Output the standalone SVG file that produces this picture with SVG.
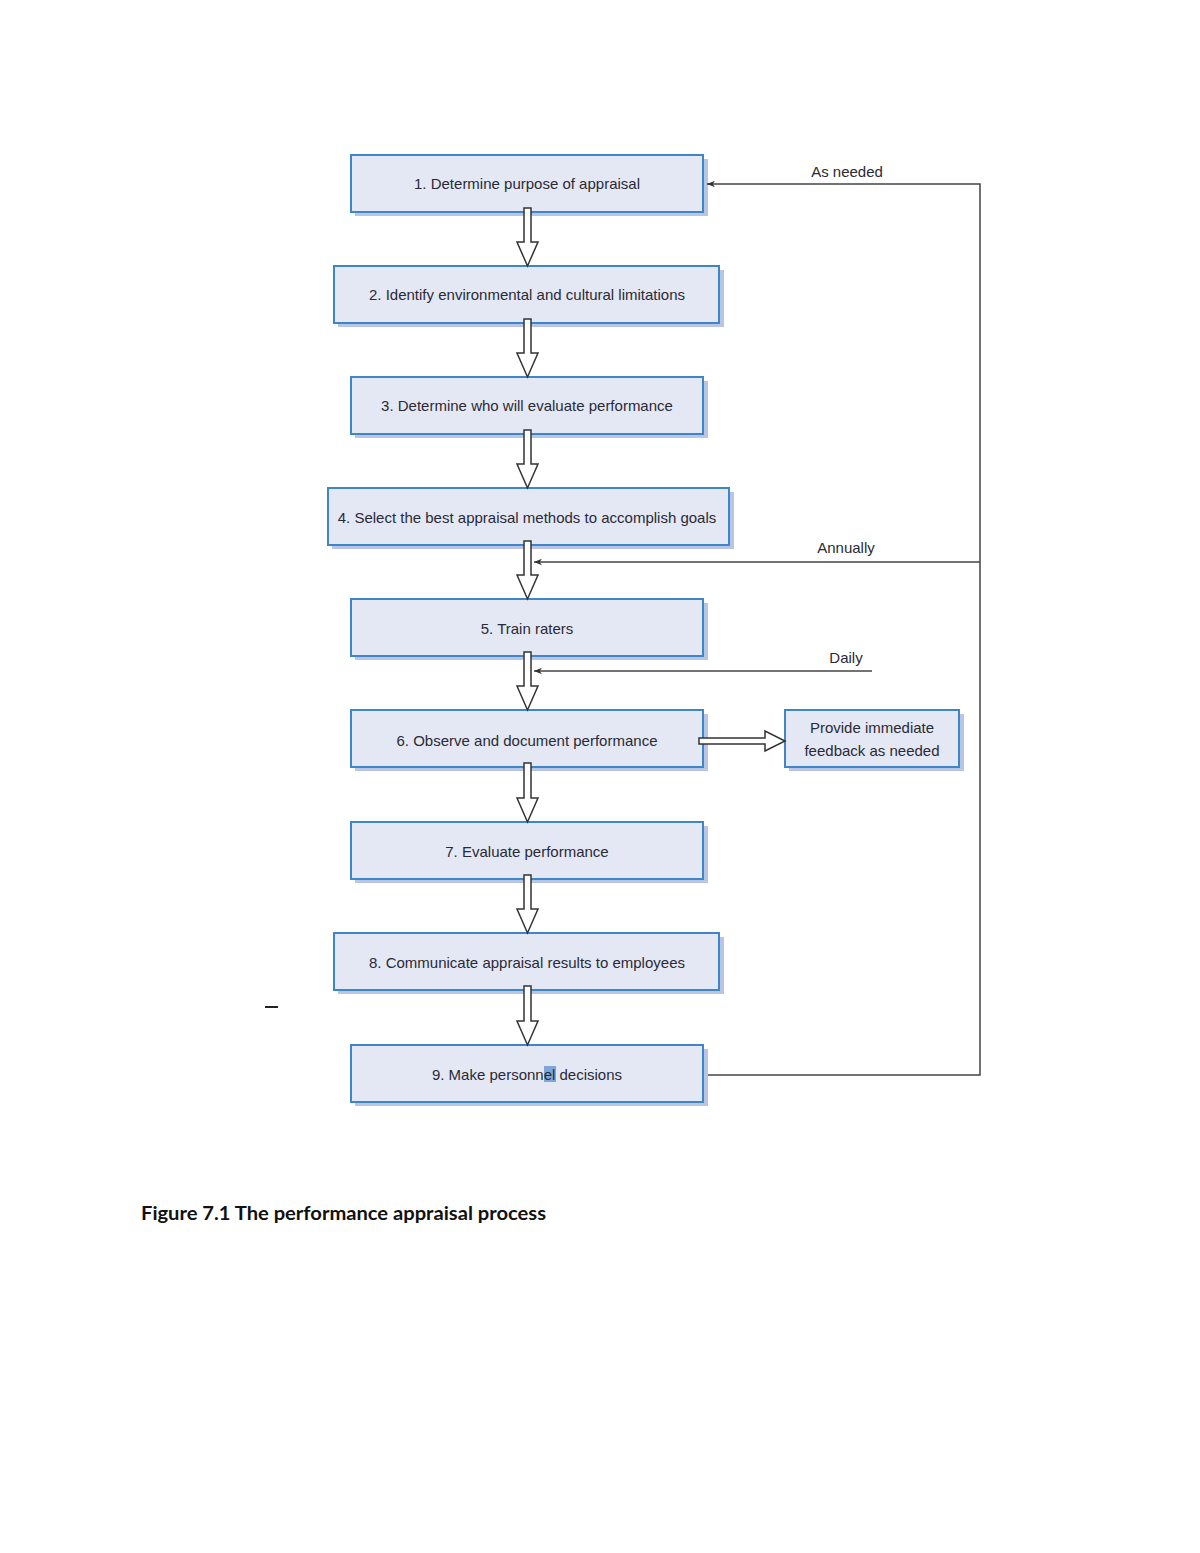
<svg xmlns="http://www.w3.org/2000/svg" width="1200" height="1553" viewBox="0 0 1200 1553">
<defs>
<style>
.sh{fill:#b9c5e6}
.bx{fill:#e4e8f5;stroke:#3f86c9;stroke-width:2}
.t{font-family:"Liberation Sans",Arial,sans-serif;font-size:15px;fill:#2a2a35;text-anchor:middle}
.lb{font-family:"Liberation Sans",Arial,sans-serif;font-size:15px;fill:#2a2a35;text-anchor:middle}
.ha{fill:#ffffff;stroke:#333;stroke-width:1.5;stroke-linejoin:miter}
.ln{fill:none;stroke:#444;stroke-width:1.5}
</style>
<marker id="ah" viewBox="0 0 10 10" refX="10" refY="5" markerWidth="8" markerHeight="8" markerUnits="userSpaceOnUse" orient="auto">
<path d="M0,1 L10,5 L0,9 L3,5 Z" fill="#333"/>
</marker>
</defs>
<rect width="1200" height="1553" fill="#ffffff"/>

<g id="n1"><rect class="sh" x="355" y="159" width="353" height="57"/><rect class="bx" x="351" y="155" width="352" height="57"/><text class="t" x="527" y="189">1. Determine purpose of appraisal</text></g>
<g id="n2"><rect class="sh" x="338" y="270" width="386" height="57"/><rect class="bx" x="334" y="266" width="385" height="57"/><text class="t" x="527" y="300">2. Identify environmental and cultural limitations</text></g>
<g id="n3"><rect class="sh" x="355" y="381" width="353" height="57"/><rect class="bx" x="351" y="377" width="352" height="57"/><text class="t" x="527" y="411">3. Determine who will evaluate performance</text></g>
<g id="n4"><rect class="sh" x="332" y="492" width="402" height="57"/><rect class="bx" x="328" y="488" width="401" height="57"/><text class="t" x="527" y="523">4. Select the best appraisal methods to accomplish goals</text></g>
<g id="n5"><rect class="sh" x="355" y="603" width="353" height="57"/><rect class="bx" x="351" y="599" width="352" height="57"/><text class="t" x="527" y="634">5. Train raters</text></g>
<g id="n6"><rect class="sh" x="355" y="714" width="353" height="57"/><rect class="bx" x="351" y="710" width="352" height="57"/><text class="t" x="527" y="746">6. Observe and document performance</text></g>
<g id="n6b"><rect class="sh" x="789" y="714" width="175" height="57"/><rect class="bx" x="785" y="710" width="174" height="57"/><text class="t" x="872" y="733">Provide immediate</text><text class="t" x="872" y="756">feedback as needed</text></g>
<g id="n7"><rect class="sh" x="355" y="826" width="353" height="57"/><rect class="bx" x="351" y="822" width="352" height="57"/><text class="t" x="527" y="857">7. Evaluate performance</text></g>
<g id="n8"><rect class="sh" x="338" y="937" width="386" height="57"/><rect class="bx" x="334" y="933" width="385" height="57"/><text class="t" x="527" y="968">8. Communicate appraisal results to employees</text></g>
<g id="n9"><rect class="sh" x="355" y="1049" width="353" height="57"/><rect class="bx" x="351" y="1045" width="352" height="57"/><rect x="544" y="1066" width="12" height="16" fill="#7fa6d6"/><text class="t" x="527" y="1080">9. Make personnel decisions</text></g>

<g id="connectors">
<path class="ha" d="M524,208 H531 V242 H538 L527.5,266 L517,242 H524 Z"/>
<path class="ha" d="M524,319 H531 V353 H538 L527.5,377 L517,353 H524 Z"/>
<path class="ha" d="M524,430 H531 V464 H538 L527.5,488 L517,464 H524 Z"/>
<path class="ha" d="M524,541 H531 V575 H538 L527.5,599 L517,575 H524 Z"/>
<path class="ha" d="M524,652 H531 V686 H538 L527.5,710 L517,686 H524 Z"/>
<path class="ha" d="M524,763 H531 V798 H538 L527.5,822 L517,798 H524 Z"/>
<path class="ha" d="M524,875 H531 V909 H538 L527.5,933 L517,909 H524 Z"/>
<path class="ha" d="M524,986 H531 V1021 H538 L527.5,1045 L517,1021 H524 Z"/>
<path class="ha" d="M699,738 H765 V731 L785,741 L765,751 V744 H699 Z"/>
<path class="ln" d="M708,1075 H980 V184 H707" marker-end="url(#ah)"/>
<path class="ln" d="M980,562 H534" marker-end="url(#ah)"/>
<path class="ln" d="M872,671 H534" marker-end="url(#ah)"/>
<text class="lb" x="847" y="177">As needed</text>
<text class="lb" x="846" y="553">Annually</text>
<text class="lb" x="846" y="663">Daily</text>
</g>

<rect x="265" y="1006" width="13" height="2" fill="#222"/>
<text x="141" y="1220" font-family="Lato,'Open Sans',sans-serif" font-weight="bold" font-size="18" fill="#111" textLength="405" lengthAdjust="spacingAndGlyphs">Figure 7.1 The performance appraisal process</text>
</svg>
